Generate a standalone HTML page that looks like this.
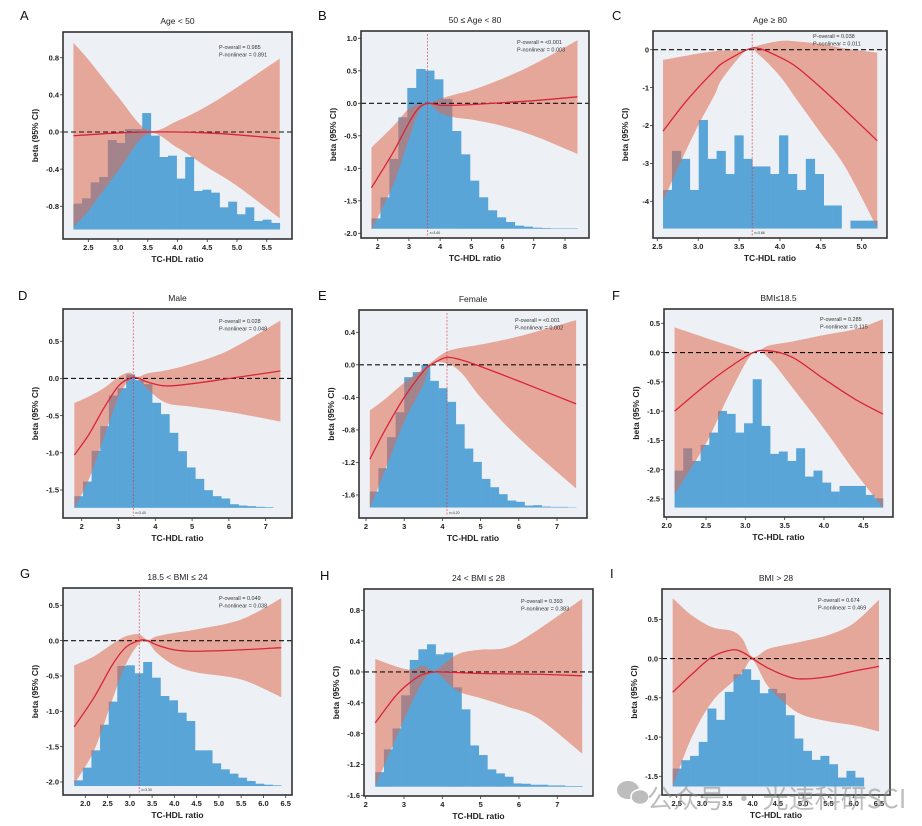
<!DOCTYPE html>
<html><head><meta charset="utf-8"><style>
body{margin:0;background:#fff}
svg{display:block;font-family:"Liberation Sans","Noto Sans CJK SC",sans-serif}
</style></head><body>
<svg id="fig" width="922" height="826" viewBox="0 0 922 826"></svg>
<script>
// ---------- Panel A ----------
const A_binRange=[2.25,5.72];
const A_hist=[-0.771,-0.714,-0.542,-0.484,-0.086,-0.118,0.032,0.032,0.204,-0.039,-0.269,-0.255,-0.502,-0.269,-0.635,-0.621,-0.653,-0.811,-0.750,-0.886,-0.811,-0.958,-0.944,-0.979];
const A_fitX=[2.25,2.5,3.0,3.5,4.0,4.5,5.0,5.72];
const A_fit=[-0.04,-0.03,-0.01,0,0,-0.01,-0.03,-0.07];
const A_upper=[0.96,0.78,0.38,0.02,0.12,0.28,0.48,0.79];
const A_lower=[-1.02,-0.85,-0.42,-0.02,-0.17,-0.38,-0.58,-0.93];
const A_xTicks=["2.5","3.0","3.5","4.0","4.5","5.0","5.5"];
const A_yTicks=["-0.8","-0.4","0.0","0.4","0.8"];
// ---------- Panel B ----------
const B_binRange=[1.8,8.4];
const B_hist=[-1.77,-1.446,-0.856,-0.215,0.236,0.528,0.503,0.369,0.067,-0.426,-0.785,-1.19,-1.446,-1.646,-1.754,-1.826,-1.882,-1.897,-1.913,-1.918,-1.923,-1.923,-1.923];
const B_fitX=[1.8,2.5,3.0,3.3,3.6,4.0,4.5,5.0,6.0,7.0,8.4];
const B_fit=[-1.3,-0.75,-0.3,-0.08,0,-0.03,-0.03,-0.02,0.01,0.04,0.1];
const B_upper=[-0.68,-0.35,-0.08,-0.02,0.0,0.07,0.14,0.2,0.38,0.6,0.97];
const B_lower=[-1.95,-1.25,-0.55,-0.15,0.0,-0.15,-0.22,-0.25,-0.35,-0.5,-0.78];
const B_xTicks=["2","3","4","5","6","7","8"];
const B_yTicks=["-2.0","-1.5","-1.0","-0.5","0.0","0.5","1.0"];
// ---------- Panel C ----------
const C_binRange=[2.57,5.19];
const C_hist=[-3.70,-2.67,-2.88,-3.70,-1.855,-2.88,-2.67,-3.28,-2.26,-2.88,-3.08,-3.08,-3.28,-2.26,-3.28,-3.70,-2.88,-3.28,-4.11,-4.11,-4.72,-4.51,-4.51,-4.51];
const C_fitX=[2.57,2.8,3.0,3.2,3.3,3.6,3.75,4.0,4.2,4.5,4.8,5.19];
const C_fit=[-2.15,-1.5,-1.0,-0.55,-0.35,0,0.03,-0.2,-0.45,-1.0,-1.6,-2.4];
const C_upper=[-0.27,-0.18,-0.1,-0.04,-0.02,0.0,0.12,0.23,0.22,0.15,0.03,-0.08];
const C_lower=[-4.0,-2.9,-2.0,-1.2,-0.75,0.0,-0.15,-0.7,-1.3,-2.2,-3.1,-4.7];
const C_xTicks=["2.5","3.0","3.5","4.0","4.5","5.0"];
const C_yTicks=["-4","-3","-2","-1","0"];
// ---------- Panel D ----------
const D_binRange=[1.8,7.2];
const D_hist=[-1.583,-1.386,-0.973,-0.641,-0.229,-0.130,0.054,-0.022,-0.076,-0.327,-0.480,-0.731,-0.978,-1.197,-1.350,-1.502,-1.583,-1.614,-1.691,-1.709,-1.717,-1.726,-1.731];
const D_fitX=[1.8,2.2,2.6,3.0,3.3,3.5,3.8,4.3,5.0,6.0,7.4];
const D_fit=[-1.03,-0.75,-0.4,-0.1,0.0,0.01,-0.05,-0.1,-0.07,0.0,0.1];
const D_upper=[-0.33,-0.24,-0.13,0.02,0.08,0.02,0.07,0.11,0.2,0.38,0.78];
const D_lower=[-1.75,-1.35,-0.8,-0.25,-0.02,0.0,-0.15,-0.33,-0.38,-0.45,-0.58];
const D_xTicks=["2","3","4","5","6","7"];
const D_yTicks=["-1.5","-1.0","-0.5","0.0","0.5"];
// ---------- Panel E ----------
const E_binRange=[2.1,7.5];
const E_hist=[-1.557,-1.270,-0.889,-0.582,-0.152,-0.090,0,-0.197,-0.287,-0.455,-0.730,-1.029,-1.193,-1.402,-1.504,-1.590,-1.668,-1.684,-1.730,-1.725,-1.742,-1.746,-1.746,-1.75];
const E_fitX=[2.1,2.5,3.0,3.5,3.7,4.1,4.5,5.0,6.0,7.5];
const E_fit=[-1.16,-0.8,-0.4,-0.08,0,0.09,0.06,-0.02,-0.2,-0.48];
const E_upper=[-0.56,-0.42,-0.22,-0.05,0.03,0.16,0.21,0.25,0.35,0.55];
const E_lower=[-1.76,-1.3,-0.7,-0.25,0.0,0.02,-0.1,-0.4,-0.9,-1.52];
const E_xTicks=["2","3","4","5","6","7"];
const E_yTicks=["-1.6","-1.2","-0.8","-0.4","0.0","0.4"];
// ---------- Panel F ----------
const F_binRange=[2.1,4.75];
const F_hist=[-2.015,-1.633,-1.850,-1.577,-1.366,-0.996,-1.047,-1.366,-1.207,-0.455,-1.252,-1.730,-1.690,-1.850,-1.633,-2.117,-2.015,-2.220,-2.373,-2.277,-2.277,-2.277,-2.430,-2.487];
const F_fitX=[2.1,2.5,2.8,3.1,3.3,3.6,4.0,4.4,4.75];
const F_fit=[-1.0,-0.55,-0.25,0.0,0.03,-0.08,-0.45,-0.8,-1.05];
const F_upper=[0.43,0.25,0.12,0.0,0.12,0.19,0.3,0.4,0.57];
const F_lower=[-2.42,-1.55,-0.7,0.0,-0.1,-0.6,-1.3,-2.05,-2.65];
const F_xTicks=["2.0","2.5","3.0","3.5","4.0","4.5"];
const F_yTicks=["-2.5","-2.0","-1.5","-1.0","-0.5","0.0","0.5"];
// ---------- Panel G ----------
const G_binRange=[1.75,6.4];
const G_hist=[-1.976,-1.797,-1.552,-1.189,-0.863,-0.358,-0.349,-0.462,-0.302,-0.524,-0.783,-0.844,-1.019,-1.137,-1.552,-1.552,-1.736,-1.821,-1.882,-1.939,-1.986,-2.024,-2.038,-2.047];
const G_fitX=[1.75,2.2,2.6,2.9,3.2,3.4,3.6,4.0,4.5,5.5,6.4];
const G_fit=[-1.22,-0.8,-0.35,-0.1,0.0,0.0,-0.06,-0.13,-0.15,-0.13,-0.1];
const G_upper=[-0.35,-0.22,-0.05,0.06,0.09,0.01,0.06,0.11,0.16,0.3,0.6];
const G_lower=[-2.03,-1.55,-0.85,-0.35,-0.05,-0.02,-0.17,-0.35,-0.45,-0.55,-0.8];
const G_xTicks=["2.0","2.5","3.0","3.5","4.0","4.5","5.0","5.5","6.0","6.5"];
const G_yTicks=["-2.0","-1.5","-1.0","-0.5","0.0","0.5"];
// ---------- Panel H ----------
const H_binRange=[2.25,7.65];
const H_hist=[-1.299,-1.004,-0.732,-0.303,0.156,0.294,0.359,0.229,0.251,-0.199,-0.485,-0.953,-1.078,-1.264,-1.316,-1.359,-1.446,-1.45,-1.463,-1.463,-1.472,-1.472,-1.48,-1.48];
const H_fitX=[2.25,2.8,3.2,3.5,3.8,4.2,4.5,5.0,5.7,6.5,7.65];
const H_fit=[-0.66,-0.3,-0.12,-0.03,0,-0.005,-0.01,-0.02,-0.025,-0.03,-0.05];
const H_upper=[0.17,0.07,0.03,0.08,0.02,0.17,0.25,0.29,0.32,0.55,0.95];
const H_lower=[-1.48,-0.85,-0.4,-0.12,0.0,-0.17,-0.27,-0.34,-0.45,-0.6,-1.06];
const H_xTicks=["2","3","4","5","6","7"];
const H_yTicks=["-1.6","-1.2","-0.8","-0.4","0.0","0.4","0.8"];
// ---------- Panel I ----------
const I_binRange=[2.42,6.2];
const I_hist=[-1.401,-1.295,-1.240,-1.062,-0.637,-0.781,-0.425,-0.200,-0.136,-0.272,-0.442,-0.386,-0.442,-0.722,-1.019,-1.176,-1.291,-1.240,-1.346,-1.516,-1.431,-1.516];
const I_fitX=[2.42,2.8,3.2,3.6,3.8,4.0,4.3,4.7,5.0,5.5,6.0,6.5];
const I_fit=[-0.43,-0.2,0.02,0.11,0.08,0.0,-0.12,-0.23,-0.26,-0.23,-0.16,-0.1];
const I_upper=[0.77,0.55,0.4,0.35,0.25,0.02,0.12,0.18,0.22,0.3,0.45,0.75];
const I_lower=[-1.63,-1.0,-0.55,-0.3,-0.18,-0.02,-0.35,-0.6,-0.72,-0.8,-0.85,-0.93];
const I_xTicks=["2.5","3.0","3.5","4.0","4.5","5.0","5.5","6.0","6.5"];
const I_yTicks=["-1.5","-1.0","-0.5","0.0","0.5"];

const panels=[
 {id:"a",letter:"A",title:"Age < 50",p1:"P-overall = 0.985",p2:"P-nonlinear = 0.891",box:[63,292,32,239],xc:[2.5,88.3,5.5,266.7],yc:[0.8,57.7,-0.8,206.3],base:-1.05,binRange:A_binRange,hist:A_hist,fitX:A_fitX,fit:A_fit,upper:A_upper,lower:A_lower,xTicks:A_xTicks,yTicks:A_yTicks,ref:null,pxy:[219,49],lx:[20,20]},
 {id:"b",letter:"B",title:"50 ≤ Age < 80",p1:"P-overall = <0.001",p2:"P-nonlinear = 0.003",box:[361,589,31,238],xc:[2,377.7,8,565],yc:[1,38.3,-2,233.3],base:-1.93,binRange:B_binRange,hist:B_hist,fitX:B_fitX,fit:B_fit,upper:B_upper,lower:B_lower,xTicks:B_xTicks,yTicks:B_yTicks,ref:[3.6,"x=3.60"],pxy:[517,44],lx:[318,20]},
 {id:"c",letter:"C",title:"Age ≥ 80",p1:"P-overall = 0.038",p2:"P-nonlinear = 0.011",box:[653,887,31,238],xc:[2.5,657.3,5,861.7],yc:[0,49.7,-4,201.3],base:-4.72,binRange:C_binRange,hist:C_hist,fitX:C_fitX,fit:C_fit,upper:C_upper,lower:C_lower,xTicks:C_xTicks,yTicks:C_yTicks,ref:[3.66,"x=3.66"],pxy:[813,38],lx:[612,20]},
 {id:"d",letter:"D",title:"Male",p1:"P-overall = 0.028",p2:"P-nonlinear = 0.048",box:[63,292,309,518],xc:[2,81.7,7,265.7],yc:[0.5,341.3,-1.5,490],base:-1.74,binRange:D_binRange,hist:D_hist,fitX:D_fitX,fit:D_fit,upper:D_upper,lower:D_lower,xTicks:D_xTicks,yTicks:D_yTicks,ref:[3.4,"x=3.40"],pxy:[219,323],lx:[18,300]},
 {id:"e",letter:"E",title:"Female",p1:"P-overall = <0.001",p2:"P-nonlinear = 0.002",box:[359,587,310,518],xc:[2,366,7,557],yc:[0.4,332.3,-1.6,495],base:-1.754,binRange:E_binRange,hist:E_hist,fitX:E_fitX,fit:E_fit,upper:E_upper,lower:E_lower,xTicks:E_xTicks,yTicks:E_yTicks,ref:[4.12,"x=4.20"],pxy:[515,322],lx:[318,300]},
 {id:"f",letter:"F",title:"BMI≤18.5",p1:"P-overall = 0.285",p2:"P-nonlinear = 0.115",box:[664,893,309,517],xc:[2,666.7,4.5,863.3],yc:[0.5,323.3,-2.5,499],base:-2.647,binRange:F_binRange,hist:F_hist,fitX:F_fitX,fit:F_fit,upper:F_upper,lower:F_lower,xTicks:F_xTicks,yTicks:F_yTicks,ref:null,pxy:[820,321],lx:[612,300]},
 {id:"g",letter:"G",title:"18.5 < BMI ≤ 24",p1:"P-overall = 0.049",p2:"P-nonlinear = 0.038",box:[63,292,588,795],xc:[2,85.3,6.5,285.7],yc:[0.5,605.3,-2,782],base:-2.057,binRange:G_binRange,hist:G_hist,fitX:G_fitX,fit:G_fit,upper:G_upper,lower:G_lower,xTicks:G_xTicks,yTicks:G_yTicks,ref:[3.21,"x=3.30"],pxy:[219,600],lx:[20,578]},
 {id:"h",letter:"H",title:"24 < BMI ≤ 28",p1:"P-overall = 0.393",p2:"P-nonlinear = 0.383",box:[364,593,589,796],xc:[2,365.7,7,557.3],yc:[0.8,610.3,-1.6,795.3],base:-1.489,binRange:H_binRange,hist:H_hist,fitX:H_fitX,fit:H_fit,upper:H_upper,lower:H_lower,xTicks:H_xTicks,yTicks:H_yTicks,ref:null,pxy:[521,603],lx:[320,580]},
 {id:"i",letter:"I",title:"BMI > 28",p1:"P-overall = 0.674",p2:"P-nonlinear = 0.469",box:[662,890,589,795],xc:[2.5,676.7,6.5,879],yc:[0.5,619.3,-1.5,776.3],base:-1.63,binRange:I_binRange,hist:I_hist,fitX:I_fitX,fit:I_fit,upper:I_upper,lower:I_lower,xTicks:I_xTicks,yTicks:I_yTicks,ref:null,pxy:[818,602],lx:[610,578]}
];

const NS="http://www.w3.org/2000/svg";
const svg=document.getElementById("fig");
function mk(tag,attrs,parent,text){const e=document.createElementNS(NS,tag);for(const k in attrs)e.setAttribute(k,attrs[k]);if(text!==undefined)e.textContent=text;(parent||svg).appendChild(e);return e;}
function smooth(pts){let d="M"+pts[0][0].toFixed(2)+","+pts[0][1].toFixed(2);
 for(let i=0;i<pts.length-1;i++){const p0=pts[Math.max(0,i-1)],p1=pts[i],p2=pts[i+1],p3=pts[Math.min(pts.length-1,i+2)];
  const c1=[p1[0]+(p2[0]-p0[0])/6,p1[1]+(p2[1]-p0[1])/6],c2=[p2[0]-(p3[0]-p1[0])/6,p2[1]-(p3[1]-p1[1])/6];
  d+="C"+c1[0].toFixed(2)+","+c1[1].toFixed(2)+" "+c2[0].toFixed(2)+","+c2[1].toFixed(2)+" "+p2[0].toFixed(2)+","+p2[1].toFixed(2);}
 return d;}
function cont(pts){return smooth(pts).replace(/^M/,"L");}

panels.forEach(P=>{
 const [L,R,T,B]=P.box;
 const xs=v=>P.xc[1]+(v-P.xc[0])*(P.xc[3]-P.xc[1])/(P.xc[2]-P.xc[0]);
 const ys=v=>P.yc[1]+(v-P.yc[0])*(P.yc[3]-P.yc[1])/(P.yc[2]-P.yc[0]);
 const g=mk("g",{});
 
 
 const lt=mk("text",{x:P.lx[0],y:P.lx[1],"font-size":13,fill:"#111"},g,P.letter);
 
 
 const tt=mk("text",{x:(L+R)/2,y:T-8,"font-size":8.5,"text-anchor":"middle",fill:"#222"},g,P.title);
 
 
 const bg=mk("rect",{x:L,y:T,width:R-L,height:B-T,fill:"#edf1f5"},g);
 
 
 // histogram
 const n=P.hist.length,w=(P.binRange[1]-P.binRange[0])/n;
 const hg=mk("g",{},g);
 
 
 P.hist.forEach((h,i)=>{const x0=xs(P.binRange[0]+i*w),x1=xs(P.binRange[0]+(i+1)*w);const y0=ys(h),yb=ys(P.base);
  const r=mk("rect",{x:x0.toFixed(2),y:Math.min(y0,yb).toFixed(2),width:(x1-x0+0.3).toFixed(2),height:Math.abs(yb-y0).toFixed(2),fill:"#5aa5d8"},hg);
  
  });
 // CI band
 const up=P.fitX.map((x,i)=>[xs(x),ys(P.upper[i])]);
 const lo=P.fitX.map((x,i)=>[xs(x),ys(P.lower[i])]).reverse();
 const band=mk("path",{d:smooth(up)+cont(lo)+"Z",fill:"#e06a50","fill-opacity":0.55},g);
 
 
 // zero line
 const z=mk("line",{x1:L,x2:R,y1:ys(0),y2:ys(0),stroke:"#111","stroke-width":1.1,"stroke-dasharray":"5,3"},g);
 
 
 // ref line
 if(P.ref){const rx=xs(P.ref[0]);
  const rl=mk("line",{x1:rx,x2:rx,y1:T+3,y2:B-2,stroke:"#d9303f","stroke-width":0.6,"stroke-dasharray":"2,1.5"},g);
  
  
  const rt=mk("text",{x:rx+2,y:B-4,"font-size":3.5,fill:"#333"},g,P.ref[1]);
  
  }
 // fit
 const fp=mk("path",{d:smooth(P.fitX.map((x,i)=>[xs(x),ys(P.fit[i])])),fill:"none",stroke:"#d9243a","stroke-width":1.3},g);
 
 
 // frame
 const fr=mk("rect",{x:L,y:T,width:R-L,height:B-T,fill:"none",stroke:"#333","stroke-width":1.6},g);
 
 
 // p-values
 const t1=mk("text",{x:P.pxy[0],y:P.pxy[1],"font-size":5.5,fill:"#333"},g,P.p1);
 
 
 const t2=mk("text",{x:P.pxy[0],y:P.pxy[1]+7.5,"font-size":5.5,fill:"#333"},g,P.p2);
 
 
 // ticks
 P.xTicks.forEach(s=>{const x=xs(parseFloat(s));
  mk("line",{x1:x,x2:x,y1:B,y2:B+3,stroke:"#333","stroke-width":0.8},g);
  const t=mk("text",{x:x,y:B+11,"font-size":7.5,"font-weight":"bold","text-anchor":"middle",fill:"#222"},g,s);
  
  });
 P.yTicks.forEach(s=>{const y=ys(parseFloat(s));
  mk("line",{x1:L-3,x2:L,y1:y,y2:y,stroke:"#333","stroke-width":0.8},g);
  const t=mk("text",{x:L-4,y:y+2.7,"font-size":7.5,"font-weight":"bold","text-anchor":"end",fill:"#222"},g,s);
  
  });
 const xl=mk("text",{x:(L+R)/2,y:B+23,"font-size":8.5,"font-weight":"bold","text-anchor":"middle",fill:"#222"},g,"TC-HDL ratio");
 
 
 const yx=L-25,yy=(T+B)/2;
 const yl=mk("text",{x:yx,y:yy,"font-size":8.5,"font-weight":"bold","text-anchor":"middle",fill:"#222",transform:`rotate(-90 ${yx} ${yy})`},g,"beta (95% CI)");
 
 
});

// watermark
const wm=mk("g",{opacity:0.55});


mk("ellipse",{cx:628,cy:790,rx:11,ry:9,fill:"#888"},wm);
mk("ellipse",{cx:640,cy:797,rx:9,ry:7.5,fill:"#888",stroke:"#fff","stroke-width":1.5},wm);
const wt=mk("text",{x:647,y:808,"font-size":26,fill:"#888","font-family":"'Noto Sans CJK SC',sans-serif"},wm,"公众号 · 光速科研SCI");


</script>
</body></html>
